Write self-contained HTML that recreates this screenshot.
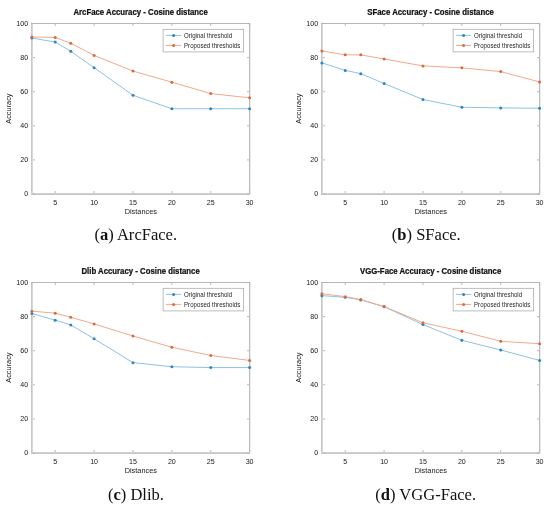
<!DOCTYPE html><html><head><meta charset="utf-8"><style>html,body{margin:0;padding:0;background:#fff;}svg{display:block;will-change:transform;} .s{font-family:"Liberation Sans",sans-serif;} .r{font-family:"Liberation Serif",serif;}</style></head><body>
<svg width="550" height="509" viewBox="0 0 550 509" shape-rendering="auto">
<rect width="550" height="509" fill="#fff"/>
<g>
<g transform="translate(0,0)">
<text transform="translate(140.6,14.75) scale(1,1.1)" class="s" font-weight="bold" font-size="7.8" fill="#111" stroke="#111" stroke-width="0.22" text-anchor="middle">ArcFace Accuracy - Cosine distance</text>
<g shape-rendering="crispEdges">
<rect x="31" y="23" width="1" height="172" fill="#c8c8c8"/><rect x="32" y="23" width="1" height="172" fill="#d8d8d8"/>
<rect x="249" y="23" width="1" height="172" fill="#bcbcbc"/><rect x="250" y="23" width="1" height="172" fill="#ececec"/>
<rect x="31" y="23" width="219" height="1" fill="#b8b8b8"/>
<rect x="31" y="193" width="219" height="1" fill="#d0d0d0"/><rect x="31" y="194" width="219" height="1" fill="#c6c6c6"/>
</g>
<path d="M55.22 193v-2M55.22 24v2M94.10 193v-2M94.10 24v2M132.97 193v-2M132.97 24v2M171.85 193v-2M171.85 24v2M210.72 193v-2M210.72 24v2M249.60 193v-2M249.60 24v2M33 194.00h2M249 194.00h-2M33 159.90h2M249 159.90h-2M33 125.80h2M249 125.80h-2M33 91.70h2M249 91.70h-2M33 57.60h2M249 57.60h-2M33 23.50h2M249 23.50h-2" stroke="#b0b0b0" stroke-width="0.9" fill="none"/>
<text x="55.22" y="204.9" class="s" font-size="7.1" fill="#181818" text-anchor="middle">5</text>
<text x="94.10" y="204.9" class="s" font-size="7.1" fill="#181818" text-anchor="middle">10</text>
<text x="132.97" y="204.9" class="s" font-size="7.1" fill="#181818" text-anchor="middle">15</text>
<text x="171.85" y="204.9" class="s" font-size="7.1" fill="#181818" text-anchor="middle">20</text>
<text x="210.72" y="204.9" class="s" font-size="7.1" fill="#181818" text-anchor="middle">25</text>
<text x="249.60" y="204.9" class="s" font-size="7.1" fill="#181818" text-anchor="middle">30</text>
<text x="28.2" y="196.40" class="s" font-size="7.1" fill="#181818" text-anchor="end">0</text>
<text x="28.2" y="162.30" class="s" font-size="7.1" fill="#181818" text-anchor="end">20</text>
<text x="28.2" y="128.20" class="s" font-size="7.1" fill="#181818" text-anchor="end">40</text>
<text x="28.2" y="94.10" class="s" font-size="7.1" fill="#181818" text-anchor="end">60</text>
<text x="28.2" y="60.00" class="s" font-size="7.1" fill="#181818" text-anchor="end">80</text>
<text x="28.2" y="25.90" class="s" font-size="7.1" fill="#181818" text-anchor="end">100</text>
<text transform="translate(140.8,214.4) scale(1,1.1)" class="s" font-size="7.35" fill="#181818" text-anchor="middle">Distances</text>
<text transform="translate(10.9,108.6) rotate(-90) scale(1,1.1)" class="s" font-size="7.35" fill="#181818" text-anchor="middle">Accuracy</text>
<polyline points="31.90,37.99 55.22,42.08 70.78,51.29 94.10,67.66 132.97,95.28 171.85,108.75 210.72,108.75 249.60,108.75" fill="none" stroke="#8ec2e4" stroke-width="1"/>
<circle cx="31.90" cy="37.99" r="1.5" fill="#2a86c6"/>
<circle cx="55.22" cy="42.08" r="1.5" fill="#2a86c6"/>
<circle cx="70.78" cy="51.29" r="1.5" fill="#2a86c6"/>
<circle cx="94.10" cy="67.66" r="1.5" fill="#2a86c6"/>
<circle cx="132.97" cy="95.28" r="1.5" fill="#2a86c6"/>
<circle cx="171.85" cy="108.75" r="1.5" fill="#2a86c6"/>
<circle cx="210.72" cy="108.75" r="1.5" fill="#2a86c6"/>
<circle cx="249.60" cy="108.75" r="1.5" fill="#2a86c6"/>
<polyline points="31.90,36.97 55.22,37.48 70.78,43.28 94.10,55.38 132.97,71.07 171.85,82.15 210.72,93.58 249.60,97.84" fill="none" stroke="#efab8e" stroke-width="1"/>
<circle cx="31.90" cy="36.97" r="1.5" fill="#e0683a"/>
<circle cx="55.22" cy="37.48" r="1.5" fill="#e0683a"/>
<circle cx="70.78" cy="43.28" r="1.5" fill="#e0683a"/>
<circle cx="94.10" cy="55.38" r="1.5" fill="#e0683a"/>
<circle cx="132.97" cy="71.07" r="1.5" fill="#e0683a"/>
<circle cx="171.85" cy="82.15" r="1.5" fill="#e0683a"/>
<circle cx="210.72" cy="93.58" r="1.5" fill="#e0683a"/>
<circle cx="249.60" cy="97.84" r="1.5" fill="#e0683a"/>
<rect x="163.1" y="29.3" width="80.5" height="22.6" fill="#fff" stroke="#acacac" stroke-width="0.8"/>
<line x1="165.9" y1="35.4" x2="181.2" y2="35.4" stroke="#8ec2e4" stroke-width="1"/><circle cx="173.6" cy="35.4" r="1.5" fill="#2a86c6"/>
<line x1="165.9" y1="45.4" x2="181.2" y2="45.4" stroke="#efab8e" stroke-width="1"/><circle cx="173.6" cy="45.4" r="1.5" fill="#e0683a"/>
<text transform="translate(184,37.6) scale(1,1.12)" class="s" font-size="6.15" fill="#1e1e1e">Original threshold</text>
<text transform="translate(184,47.7) scale(1,1.12)" class="s" font-size="6.15" fill="#1e1e1e">Proposed thresholds</text>
</g>
<g transform="translate(290,0)">
<text transform="translate(140.6,14.75) scale(1,1.1)" class="s" font-weight="bold" font-size="7.8" fill="#111" stroke="#111" stroke-width="0.22" text-anchor="middle">SFace Accuracy - Cosine distance</text>
<g shape-rendering="crispEdges">
<rect x="31" y="23" width="1" height="172" fill="#c8c8c8"/><rect x="32" y="23" width="1" height="172" fill="#d8d8d8"/>
<rect x="249" y="23" width="1" height="172" fill="#bcbcbc"/><rect x="250" y="23" width="1" height="172" fill="#ececec"/>
<rect x="31" y="23" width="219" height="1" fill="#b8b8b8"/>
<rect x="31" y="193" width="219" height="1" fill="#d0d0d0"/><rect x="31" y="194" width="219" height="1" fill="#c6c6c6"/>
</g>
<path d="M55.22 193v-2M55.22 24v2M94.10 193v-2M94.10 24v2M132.97 193v-2M132.97 24v2M171.85 193v-2M171.85 24v2M210.72 193v-2M210.72 24v2M249.60 193v-2M249.60 24v2M33 194.00h2M249 194.00h-2M33 159.90h2M249 159.90h-2M33 125.80h2M249 125.80h-2M33 91.70h2M249 91.70h-2M33 57.60h2M249 57.60h-2M33 23.50h2M249 23.50h-2" stroke="#b0b0b0" stroke-width="0.9" fill="none"/>
<text x="55.22" y="204.9" class="s" font-size="7.1" fill="#181818" text-anchor="middle">5</text>
<text x="94.10" y="204.9" class="s" font-size="7.1" fill="#181818" text-anchor="middle">10</text>
<text x="132.97" y="204.9" class="s" font-size="7.1" fill="#181818" text-anchor="middle">15</text>
<text x="171.85" y="204.9" class="s" font-size="7.1" fill="#181818" text-anchor="middle">20</text>
<text x="210.72" y="204.9" class="s" font-size="7.1" fill="#181818" text-anchor="middle">25</text>
<text x="249.60" y="204.9" class="s" font-size="7.1" fill="#181818" text-anchor="middle">30</text>
<text x="28.2" y="196.40" class="s" font-size="7.1" fill="#181818" text-anchor="end">0</text>
<text x="28.2" y="162.30" class="s" font-size="7.1" fill="#181818" text-anchor="end">20</text>
<text x="28.2" y="128.20" class="s" font-size="7.1" fill="#181818" text-anchor="end">40</text>
<text x="28.2" y="94.10" class="s" font-size="7.1" fill="#181818" text-anchor="end">60</text>
<text x="28.2" y="60.00" class="s" font-size="7.1" fill="#181818" text-anchor="end">80</text>
<text x="28.2" y="25.90" class="s" font-size="7.1" fill="#181818" text-anchor="end">100</text>
<text transform="translate(140.8,214.4) scale(1,1.1)" class="s" font-size="7.35" fill="#181818" text-anchor="middle">Distances</text>
<text transform="translate(10.9,108.6) rotate(-90) scale(1,1.1)" class="s" font-size="7.35" fill="#181818" text-anchor="middle">Accuracy</text>
<polyline points="31.90,62.89 55.22,70.39 70.78,73.63 94.10,83.52 132.97,99.54 171.85,107.22 210.72,107.90 249.60,108.24" fill="none" stroke="#8ec2e4" stroke-width="1"/>
<circle cx="31.90" cy="62.89" r="1.5" fill="#2a86c6"/>
<circle cx="55.22" cy="70.39" r="1.5" fill="#2a86c6"/>
<circle cx="70.78" cy="73.63" r="1.5" fill="#2a86c6"/>
<circle cx="94.10" cy="83.52" r="1.5" fill="#2a86c6"/>
<circle cx="132.97" cy="99.54" r="1.5" fill="#2a86c6"/>
<circle cx="171.85" cy="107.22" r="1.5" fill="#2a86c6"/>
<circle cx="210.72" cy="107.90" r="1.5" fill="#2a86c6"/>
<circle cx="249.60" cy="108.24" r="1.5" fill="#2a86c6"/>
<polyline points="31.90,50.95 55.22,54.87 70.78,54.87 94.10,58.96 132.97,65.95 171.85,67.83 210.72,71.58 249.60,81.98" fill="none" stroke="#efab8e" stroke-width="1"/>
<circle cx="31.90" cy="50.95" r="1.5" fill="#e0683a"/>
<circle cx="55.22" cy="54.87" r="1.5" fill="#e0683a"/>
<circle cx="70.78" cy="54.87" r="1.5" fill="#e0683a"/>
<circle cx="94.10" cy="58.96" r="1.5" fill="#e0683a"/>
<circle cx="132.97" cy="65.95" r="1.5" fill="#e0683a"/>
<circle cx="171.85" cy="67.83" r="1.5" fill="#e0683a"/>
<circle cx="210.72" cy="71.58" r="1.5" fill="#e0683a"/>
<circle cx="249.60" cy="81.98" r="1.5" fill="#e0683a"/>
<rect x="163.1" y="29.3" width="80.5" height="22.6" fill="#fff" stroke="#acacac" stroke-width="0.8"/>
<line x1="165.9" y1="35.4" x2="181.2" y2="35.4" stroke="#8ec2e4" stroke-width="1"/><circle cx="173.6" cy="35.4" r="1.5" fill="#2a86c6"/>
<line x1="165.9" y1="45.4" x2="181.2" y2="45.4" stroke="#efab8e" stroke-width="1"/><circle cx="173.6" cy="45.4" r="1.5" fill="#e0683a"/>
<text transform="translate(184,37.6) scale(1,1.12)" class="s" font-size="6.15" fill="#1e1e1e">Original threshold</text>
<text transform="translate(184,47.7) scale(1,1.12)" class="s" font-size="6.15" fill="#1e1e1e">Proposed thresholds</text>
</g>
<g transform="translate(0,259)">
<text transform="translate(140.6,15.05) scale(1,1.1)" class="s" font-weight="bold" font-size="7.8" fill="#111" stroke="#111" stroke-width="0.22" text-anchor="middle">Dlib Accuracy - Cosine distance</text>
<g shape-rendering="crispEdges">
<rect x="31" y="23" width="1" height="172" fill="#c8c8c8"/><rect x="32" y="23" width="1" height="172" fill="#d8d8d8"/>
<rect x="249" y="23" width="1" height="172" fill="#bcbcbc"/><rect x="250" y="23" width="1" height="172" fill="#ececec"/>
<rect x="31" y="23" width="219" height="1" fill="#b8b8b8"/>
<rect x="31" y="193" width="219" height="1" fill="#d0d0d0"/><rect x="31" y="194" width="219" height="1" fill="#c6c6c6"/>
</g>
<path d="M55.22 193v-2M55.22 24v2M94.10 193v-2M94.10 24v2M132.97 193v-2M132.97 24v2M171.85 193v-2M171.85 24v2M210.72 193v-2M210.72 24v2M249.60 193v-2M249.60 24v2M33 194.00h2M249 194.00h-2M33 159.90h2M249 159.90h-2M33 125.80h2M249 125.80h-2M33 91.70h2M249 91.70h-2M33 57.60h2M249 57.60h-2M33 23.50h2M249 23.50h-2" stroke="#b0b0b0" stroke-width="0.9" fill="none"/>
<text x="55.22" y="204.9" class="s" font-size="7.1" fill="#181818" text-anchor="middle">5</text>
<text x="94.10" y="204.9" class="s" font-size="7.1" fill="#181818" text-anchor="middle">10</text>
<text x="132.97" y="204.9" class="s" font-size="7.1" fill="#181818" text-anchor="middle">15</text>
<text x="171.85" y="204.9" class="s" font-size="7.1" fill="#181818" text-anchor="middle">20</text>
<text x="210.72" y="204.9" class="s" font-size="7.1" fill="#181818" text-anchor="middle">25</text>
<text x="249.60" y="204.9" class="s" font-size="7.1" fill="#181818" text-anchor="middle">30</text>
<text x="28.2" y="196.40" class="s" font-size="7.1" fill="#181818" text-anchor="end">0</text>
<text x="28.2" y="162.30" class="s" font-size="7.1" fill="#181818" text-anchor="end">20</text>
<text x="28.2" y="128.20" class="s" font-size="7.1" fill="#181818" text-anchor="end">40</text>
<text x="28.2" y="94.10" class="s" font-size="7.1" fill="#181818" text-anchor="end">60</text>
<text x="28.2" y="60.00" class="s" font-size="7.1" fill="#181818" text-anchor="end">80</text>
<text x="28.2" y="25.90" class="s" font-size="7.1" fill="#181818" text-anchor="end">100</text>
<text transform="translate(140.8,214.4) scale(1,1.1)" class="s" font-size="7.35" fill="#181818" text-anchor="middle">Distances</text>
<text transform="translate(10.9,108.6) rotate(-90) scale(1,1.1)" class="s" font-size="7.35" fill="#181818" text-anchor="middle">Accuracy</text>
<polyline points="31.90,54.53 55.22,61.18 70.78,65.95 94.10,79.76 132.97,103.63 171.85,107.73 210.72,108.58 249.60,108.58" fill="none" stroke="#8ec2e4" stroke-width="1"/>
<circle cx="31.90" cy="54.53" r="1.5" fill="#2a86c6"/>
<circle cx="55.22" cy="61.18" r="1.5" fill="#2a86c6"/>
<circle cx="70.78" cy="65.95" r="1.5" fill="#2a86c6"/>
<circle cx="94.10" cy="79.76" r="1.5" fill="#2a86c6"/>
<circle cx="132.97" cy="103.63" r="1.5" fill="#2a86c6"/>
<circle cx="171.85" cy="107.73" r="1.5" fill="#2a86c6"/>
<circle cx="210.72" cy="108.58" r="1.5" fill="#2a86c6"/>
<circle cx="249.60" cy="108.58" r="1.5" fill="#2a86c6"/>
<polyline points="31.90,52.14 55.22,54.19 70.78,58.28 94.10,64.93 132.97,77.04 171.85,88.29 210.72,96.47 249.60,101.42" fill="none" stroke="#efab8e" stroke-width="1"/>
<circle cx="31.90" cy="52.14" r="1.5" fill="#e0683a"/>
<circle cx="55.22" cy="54.19" r="1.5" fill="#e0683a"/>
<circle cx="70.78" cy="58.28" r="1.5" fill="#e0683a"/>
<circle cx="94.10" cy="64.93" r="1.5" fill="#e0683a"/>
<circle cx="132.97" cy="77.04" r="1.5" fill="#e0683a"/>
<circle cx="171.85" cy="88.29" r="1.5" fill="#e0683a"/>
<circle cx="210.72" cy="96.47" r="1.5" fill="#e0683a"/>
<circle cx="249.60" cy="101.42" r="1.5" fill="#e0683a"/>
<rect x="163.1" y="29.3" width="80.5" height="22.6" fill="#fff" stroke="#acacac" stroke-width="0.8"/>
<line x1="165.9" y1="35.4" x2="181.2" y2="35.4" stroke="#8ec2e4" stroke-width="1"/><circle cx="173.6" cy="35.4" r="1.5" fill="#2a86c6"/>
<line x1="165.9" y1="45.4" x2="181.2" y2="45.4" stroke="#efab8e" stroke-width="1"/><circle cx="173.6" cy="45.4" r="1.5" fill="#e0683a"/>
<text transform="translate(184,37.6) scale(1,1.12)" class="s" font-size="6.15" fill="#1e1e1e">Original threshold</text>
<text transform="translate(184,47.7) scale(1,1.12)" class="s" font-size="6.15" fill="#1e1e1e">Proposed thresholds</text>
</g>
<g transform="translate(290,259)">
<text transform="translate(140.6,15.05) scale(1,1.1)" class="s" font-weight="bold" font-size="7.8" fill="#111" stroke="#111" stroke-width="0.22" text-anchor="middle">VGG-Face Accuracy - Cosine distance</text>
<g shape-rendering="crispEdges">
<rect x="31" y="23" width="1" height="172" fill="#c8c8c8"/><rect x="32" y="23" width="1" height="172" fill="#d8d8d8"/>
<rect x="249" y="23" width="1" height="172" fill="#bcbcbc"/><rect x="250" y="23" width="1" height="172" fill="#ececec"/>
<rect x="31" y="23" width="219" height="1" fill="#b8b8b8"/>
<rect x="31" y="193" width="219" height="1" fill="#d0d0d0"/><rect x="31" y="194" width="219" height="1" fill="#c6c6c6"/>
</g>
<path d="M55.22 193v-2M55.22 24v2M94.10 193v-2M94.10 24v2M132.97 193v-2M132.97 24v2M171.85 193v-2M171.85 24v2M210.72 193v-2M210.72 24v2M249.60 193v-2M249.60 24v2M33 194.00h2M249 194.00h-2M33 159.90h2M249 159.90h-2M33 125.80h2M249 125.80h-2M33 91.70h2M249 91.70h-2M33 57.60h2M249 57.60h-2M33 23.50h2M249 23.50h-2" stroke="#b0b0b0" stroke-width="0.9" fill="none"/>
<text x="55.22" y="204.9" class="s" font-size="7.1" fill="#181818" text-anchor="middle">5</text>
<text x="94.10" y="204.9" class="s" font-size="7.1" fill="#181818" text-anchor="middle">10</text>
<text x="132.97" y="204.9" class="s" font-size="7.1" fill="#181818" text-anchor="middle">15</text>
<text x="171.85" y="204.9" class="s" font-size="7.1" fill="#181818" text-anchor="middle">20</text>
<text x="210.72" y="204.9" class="s" font-size="7.1" fill="#181818" text-anchor="middle">25</text>
<text x="249.60" y="204.9" class="s" font-size="7.1" fill="#181818" text-anchor="middle">30</text>
<text x="28.2" y="196.40" class="s" font-size="7.1" fill="#181818" text-anchor="end">0</text>
<text x="28.2" y="162.30" class="s" font-size="7.1" fill="#181818" text-anchor="end">20</text>
<text x="28.2" y="128.20" class="s" font-size="7.1" fill="#181818" text-anchor="end">40</text>
<text x="28.2" y="94.10" class="s" font-size="7.1" fill="#181818" text-anchor="end">60</text>
<text x="28.2" y="60.00" class="s" font-size="7.1" fill="#181818" text-anchor="end">80</text>
<text x="28.2" y="25.90" class="s" font-size="7.1" fill="#181818" text-anchor="end">100</text>
<text transform="translate(140.8,214.4) scale(1,1.1)" class="s" font-size="7.35" fill="#181818" text-anchor="middle">Distances</text>
<text transform="translate(10.9,108.6) rotate(-90) scale(1,1.1)" class="s" font-size="7.35" fill="#181818" text-anchor="middle">Accuracy</text>
<polyline points="31.90,36.63 55.22,38.33 70.78,40.89 94.10,47.71 132.97,65.61 171.85,81.30 210.72,91.02 249.60,101.42" fill="none" stroke="#8ec2e4" stroke-width="1"/>
<circle cx="31.90" cy="36.63" r="1.5" fill="#2a86c6"/>
<circle cx="55.22" cy="38.33" r="1.5" fill="#2a86c6"/>
<circle cx="70.78" cy="40.89" r="1.5" fill="#2a86c6"/>
<circle cx="94.10" cy="47.71" r="1.5" fill="#2a86c6"/>
<circle cx="132.97" cy="65.61" r="1.5" fill="#2a86c6"/>
<circle cx="171.85" cy="81.30" r="1.5" fill="#2a86c6"/>
<circle cx="210.72" cy="91.02" r="1.5" fill="#2a86c6"/>
<circle cx="249.60" cy="101.42" r="1.5" fill="#2a86c6"/>
<polyline points="31.90,34.75 55.22,37.65 70.78,40.55 94.10,47.54 132.97,63.74 171.85,72.26 210.72,82.32 249.60,84.71" fill="none" stroke="#efab8e" stroke-width="1"/>
<circle cx="31.90" cy="34.75" r="1.5" fill="#e0683a"/>
<circle cx="55.22" cy="37.65" r="1.5" fill="#e0683a"/>
<circle cx="70.78" cy="40.55" r="1.5" fill="#e0683a"/>
<circle cx="94.10" cy="47.54" r="1.5" fill="#e0683a"/>
<circle cx="132.97" cy="63.74" r="1.5" fill="#e0683a"/>
<circle cx="171.85" cy="72.26" r="1.5" fill="#e0683a"/>
<circle cx="210.72" cy="82.32" r="1.5" fill="#e0683a"/>
<circle cx="249.60" cy="84.71" r="1.5" fill="#e0683a"/>
<rect x="163.1" y="29.3" width="80.5" height="22.6" fill="#fff" stroke="#acacac" stroke-width="0.8"/>
<line x1="165.9" y1="35.4" x2="181.2" y2="35.4" stroke="#8ec2e4" stroke-width="1"/><circle cx="173.6" cy="35.4" r="1.5" fill="#2a86c6"/>
<line x1="165.9" y1="45.4" x2="181.2" y2="45.4" stroke="#efab8e" stroke-width="1"/><circle cx="173.6" cy="45.4" r="1.5" fill="#e0683a"/>
<text transform="translate(184,37.6) scale(1,1.12)" class="s" font-size="6.15" fill="#1e1e1e">Original threshold</text>
<text transform="translate(184,47.7) scale(1,1.12)" class="s" font-size="6.15" fill="#1e1e1e">Proposed thresholds</text>
</g>
<text transform="translate(94.4,240.2) scale(1.035,1)" class="r" font-size="16" fill="#111">(<tspan font-weight="bold">a</tspan>) ArcFace.</text>
<text transform="translate(391.8,240.2) scale(1.035,1)" class="r" font-size="16" fill="#111">(<tspan font-weight="bold">b</tspan>) SFace.</text>
<text transform="translate(107.9,500.2) scale(1.035,1)" class="r" font-size="16" fill="#111">(<tspan font-weight="bold">c</tspan>) Dlib.</text>
<text transform="translate(375.3,500.2) scale(1.035,1)" class="r" font-size="16" fill="#111">(<tspan font-weight="bold">d</tspan>) VGG-Face.</text>
</g></svg></body></html>
